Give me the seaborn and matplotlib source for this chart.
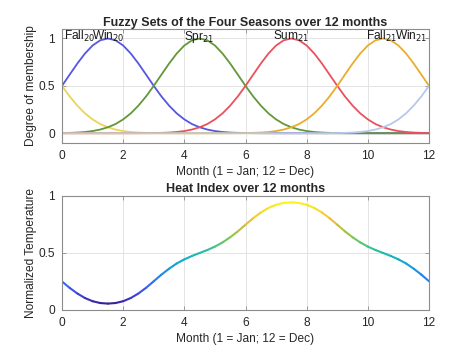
import numpy as np
import pandas as pd
import matplotlib
matplotlib.use("Agg")
import matplotlib.pyplot as plt
from matplotlib.collections import LineCollection
from matplotlib.colors import LinearSegmentedColormap
import seaborn as sns

# month grid, quarter-month steps
months = np.arange(0, 12.25, 0.25)

profile = [1.0, 0.981, 0.926, 0.841, 0.735, 0.618, 0.5, 0.389, 0.292, 0.21, 0.146,
           0.097, 0.063, 0.039, 0.023, 0.013, 0.007, 0.004, 0.002, 0.001, 0.0005,
           0.0002, 0.0001]

season_names = ["Fall$_{20}$", "Win$_{20}$", "Spr$_{21}$", "Sum$_{21}$", "Fall$_{21}$", "Win$_{21}$"]
season_peaks = [-1.5, 1.5, 4.5, 7.5, 10.5, 13.5]
season_colors = ["#ecd35a", "#5656e0", "#62973a", "#e8525e", "#e8ad2c", "#b6c8ec"]
label_x = [0.05, 1.5, 4.5, 7.5, 10.45, 11.95]
label_ha = ["left", "center", "center", "center", "center", "right"]

# normalized heat index
heat = [0.25, 0.194, 0.145, 0.105, 0.077, 0.061, 0.056, 0.061, 0.077, 0.105, 0.145,
        0.195, 0.252, 0.310, 0.362, 0.408, 0.444, 0.474, 0.500, 0.526, 0.556, 0.593,
        0.638, 0.690, 0.748, 0.805, 0.855, 0.895, 0.923, 0.939, 0.944, 0.939, 0.923,
        0.895, 0.855, 0.805, 0.748, 0.690, 0.638, 0.593, 0.556, 0.526, 0.500, 0.474,
        0.444, 0.408, 0.362, 0.310, 0.252]

sns.set_theme(style="whitegrid")
plt.rcParams["font.family"] = ["Liberation Sans", "DejaVu Sans"]

FS = 8.6

rows = []
for name, peak in zip(season_names, season_peaks):
    idx = np.round(np.abs(months - peak) / 0.25).astype(int)
    vals = [profile[k] if k < len(profile) else 0.0 for k in idx]
    rows.append(pd.DataFrame({"month": months, "mu": vals, "season": name}))
df = pd.concat(rows, ignore_index=True)

fig = plt.figure(figsize=(4.74, 3.55), dpi=100)
ax1 = fig.add_axes([0.1308, 0.598, 0.7743, 0.3203])
ax2 = fig.add_axes([0.1308, 0.1268, 0.7743, 0.3211])


def matlab_look(ax):
    ax.set_facecolor("white")
    for s in ax.spines.values():
        s.set_visible(True)
        s.set_color("#8c8c8c")
        s.set_linewidth(0.8)
    ax.grid(True, color="#e4e4e4", linewidth=0.7)
    ax.tick_params(axis="both", which="both", direction="in", length=3, width=0.6,
                   color="#8c8c8c", labelsize=FS, labelcolor="#262626",
                   top=True, right=True, bottom=True, left=True, pad=5)
    ax.set_xlim(0, 12)
    ax.set_xticks(range(0, 13, 2))
    ax.set_xticklabels([str(v) for v in range(0, 13, 2)])


sns.lineplot(data=df, x="month", y="mu", hue="season", palette=season_colors,
             linewidth=1.3, ax=ax1, legend=False)
matlab_look(ax1)
ax1.set_ylim(-0.1, 1.1)
ax1.set_yticks([0, 0.5, 1])
ax1.set_yticklabels(["0", "0.5", "1"])
ax1.set_xlabel("Month (1 = Jan; 12 = Dec)", fontsize=FS, color="#262626", labelpad=3)
ax1.set_ylabel("Degree of membership", fontsize=FS, color="#262626", labelpad=1)
ax1.set_title("Fuzzy Sets of the Four Seasons over 12 months", fontsize=9,
              fontweight="bold", pad=2)
for name, x, ha in zip(season_names, label_x, label_ha):
    ax1.text(x, 1.02, name, ha=ha, va="center", fontsize=FS, color="#1a1a1a")

# heat index coloured by value
parula = LinearSegmentedColormap.from_list("parula", [
    (0.0, (0.22, 0.13, 0.60)), (0.1, (0.26, 0.28, 0.90)), (0.2, (0.20, 0.42, 0.95)),
    (0.3, (0.12, 0.55, 0.90)), (0.4, (0.05, 0.66, 0.82)), (0.5, (0.12, 0.73, 0.68)),
    (0.6, (0.35, 0.78, 0.45)), (0.7, (0.62, 0.77, 0.28)), (0.8, (0.90, 0.73, 0.24)),
    (0.9, (0.97, 0.83, 0.19)), (1.0, (0.98, 0.96, 0.08))])
pts = np.column_stack([months, heat]).reshape(-1, 1, 2)
segs = np.concatenate([pts[:-1], pts[1:]], axis=1)
mid = (np.array(heat[:-1]) + np.array(heat[1:])) / 2
lc = LineCollection(segs, cmap=parula, norm=plt.Normalize(min(heat), max(heat)),
                    linewidth=1.5, capstyle="round")
lc.set_array(mid)
ax2.add_collection(lc)
matlab_look(ax2)
ax2.set_ylim(0, 1)
ax2.set_yticks([0, 0.5, 1])
ax2.set_yticklabels(["0", "0.5", "1"])
ax2.set_xlabel("Month (1 = Jan; 12 = Dec)", fontsize=FS, color="#262626", labelpad=3)
ax2.set_ylabel("Normalized Temperature", fontsize=FS, color="#262626", labelpad=1)
ax2.set_title("Heat Index over 12 months", fontsize=9, fontweight="bold", pad=3)

fig.savefig("out.png", dpi=100)
